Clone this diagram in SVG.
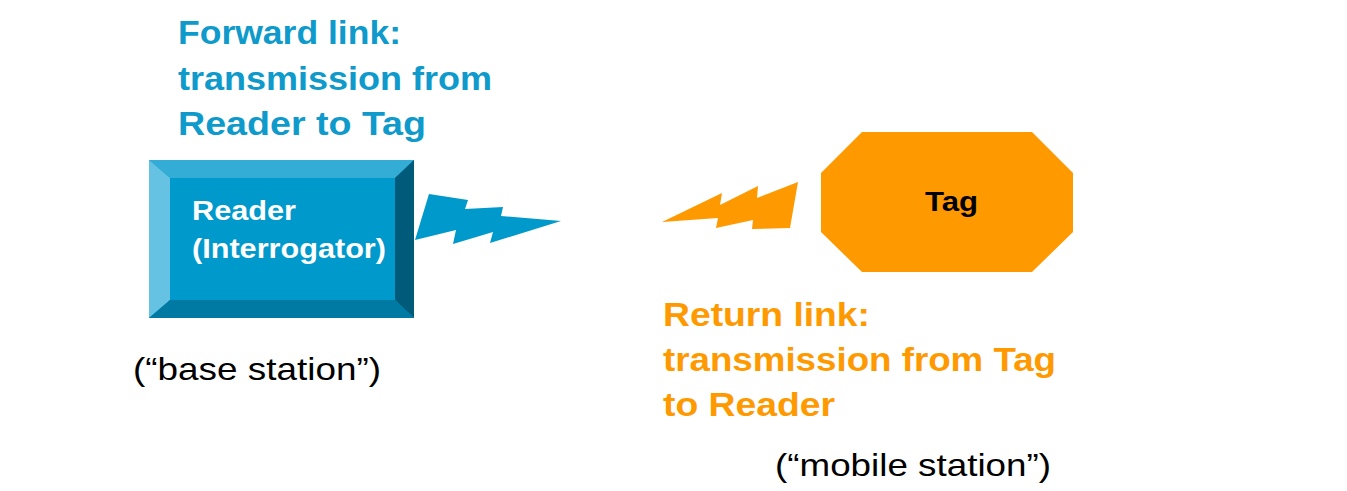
<svg xmlns="http://www.w3.org/2000/svg" width="1347" height="491" viewBox="0 0 1347 491">
<style>
text{font-family:"Liberation Sans",Arial,sans-serif}
.h{font-weight:bold;font-size:33px}
.b{fill:#0e9acb}
.o{fill:#ff9900}
.n{font-size:32px;fill:#000}
</style>
<rect width="1347" height="491" fill="#fff"/>
<g id="forward-label"><text class="h b" x="178" y="44" textLength="223" lengthAdjust="spacingAndGlyphs">Forward link:</text><text class="h b" x="178" y="90" textLength="314" lengthAdjust="spacingAndGlyphs">transmission from</text><text class="h b" x="178" y="135" textLength="248" lengthAdjust="spacingAndGlyphs">Reader to Tag</text></g>
<g id="reader">
<rect x="149" y="160" width="265" height="158" fill="#0099cc"/>
<polygon points="149,160 414,160 395,178 170,178" fill="#33acd6"/>
<polygon points="149,160 170,178 170,300 149,318" fill="#66c2e3"/>
<polygon points="414,160 414,318 395,300 395,178" fill="#005a7a"/>
<polygon points="149,318 170,300 395,300 414,318" fill="#007aa3"/>
<text x="192" y="220" font-size="27" font-weight="bold" fill="#fff" textLength="104" lengthAdjust="spacingAndGlyphs">Reader</text>
<text x="192" y="258" font-size="27" font-weight="bold" fill="#fff" textLength="194" lengthAdjust="spacingAndGlyphs">(Interrogator)</text>
</g>
<g id="base-label"><text class="n" x="133" y="380" textLength="248" lengthAdjust="spacingAndGlyphs">(“base station”)</text></g>
<g id="connectors">
<polygon points="429,194 468,200 465,209 503,207 501,216 561,221 490,243 493,232 453,244 456,230 415,240" fill="#0099cc"/>
<polygon points="662,222 722,193 720,205 758,186 757,198 798,182 790,228 752,229 753,220 716,228 718,218" fill="#ff9900"/>
</g>
<g id="tag">
<polygon points="862,132 1032,132 1073,173 1073,232 1032,272 862,272 821,232 821,173" fill="#ff9900"/>
<text x="925" y="211" font-size="27" font-weight="bold" textLength="53" lengthAdjust="spacingAndGlyphs">Tag</text>
</g>
<g id="return-label"><text class="h o" x="663" y="326" textLength="207" lengthAdjust="spacingAndGlyphs">Return link:</text><text class="h o" x="663" y="371" textLength="393" lengthAdjust="spacingAndGlyphs">transmission from Tag</text><text class="h o" x="663" y="416" textLength="172" lengthAdjust="spacingAndGlyphs">to Reader</text></g>
<g id="mobile-label"><text class="n" x="775" y="476" textLength="276" lengthAdjust="spacingAndGlyphs">(“mobile station”)</text></g>
</svg>
